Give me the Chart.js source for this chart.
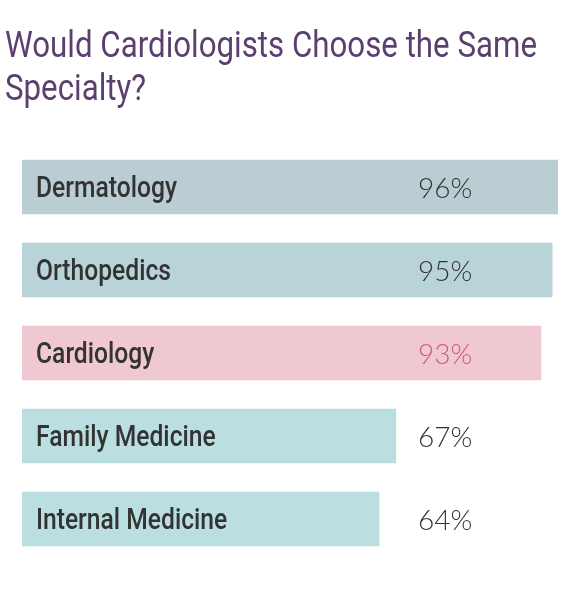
<!DOCTYPE html>
<html>
<head>
<meta charset="utf-8">
<script src="https://cdn.jsdelivr.net/npm/chart.js@4"></script>
<style>
  html, body { margin: 0; padding: 0; background: #fff; }
  #wrap { position: relative; width: 580px; height: 602px; overflow: hidden; }
  #title {
    position: absolute; left: 5px; top: 24px; white-space: nowrap;
    font-family: Roboto, sans-serif; font-weight: 400;
    font-size: 36px; line-height: 43px; color: #5b3f6e;
    transform-origin: 0 0;
  }
  canvas { position: absolute; left: 0; top: 0; }
</style>
</head>
<body>
<div id="wrap">
  <canvas id="chart" width="580" height="602"></canvas>
  <div id="title">Would Cardiologists Choose the Same<br>Specialty?</div>
</div>
<script>
// chart data
const specialties = ['Dermatology', 'Orthopedics', 'Cardiology', 'Family Medicine', 'Internal Medicine'];
const samePct = [96, 95, 93, 67, 64];
const barColors = ['#bacdd2', '#b9d4d8', '#efc8d1', '#bbdfe0', '#bbdfe0'];
const valueColors = ['#333333', '#333333', '#d05a78', '#333333', '#333333'];

const LABEL_FONT = '500 29px Roboto, sans-serif';
const VALUE_FONT = '300 28px Lato, "Open Sans", sans-serif';

// Roboto squeezed to look like the condensed face of the original
const measure = document.createElement('canvas').getContext('2d');
measure.font = '400 36px Roboto, sans-serif';
const titleSqueeze = 532 / measure.measureText('Would Cardiologists Choose the Same').width;
document.getElementById('title').style.transform = 'scaleX(' + titleSqueeze + ')';
measure.font = LABEL_FONT;
const labelSqueeze = 141 / measure.measureText('Dermatology').width;

// labels inside bars + values at fixed column
const barText = {
  id: 'barText',
  afterDatasetsDraw(chart) {
    const ctx = chart.ctx;
    const meta = chart.getDatasetMeta(0);
    ctx.save();
    ctx.textBaseline = 'alphabetic';
    ctx.textAlign = 'left';
    meta.data.forEach((bar, i) => {
      ctx.save();
      ctx.translate(bar.base + 14, bar.y + 10);
      ctx.scale(labelSqueeze, 1);
      ctx.fillStyle = '#333333';
      ctx.font = LABEL_FONT;
      ctx.fillText(specialties[i], 0, 0);
      ctx.restore();
      ctx.fillStyle = valueColors[i];
      ctx.font = VALUE_FONT;
      ctx.fillText(samePct[i] + '%', 418, bar.y + 11);
    });
    ctx.restore();
  }
};

new Chart(document.getElementById('chart'), {
  type: 'bar',
  data: {
    labels: specialties,
    datasets: [{
      data: samePct,
      backgroundColor: barColors,
      borderWidth: 0,
      barThickness: 54
    }]
  },
  options: {
    indexAxis: 'y',
    responsive: false,
    animation: false,
    layout: { padding: { left: 22, right: 0, top: 145.5, bottom: 41.5 } },
    plugins: { legend: { display: false }, tooltip: { enabled: false } },
    scales: {
      x: { display: false, min: 0, max: 100 },
      y: { display: false }
    }
  },
  plugins: [barText]
});
</script>
</body>
</html>
